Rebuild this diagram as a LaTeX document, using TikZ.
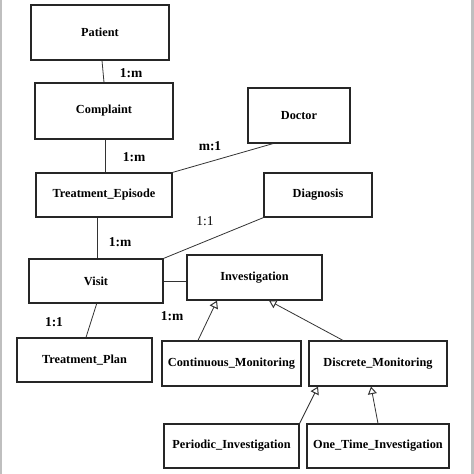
\documentclass[tikz,border=0pt]{standalone}
\usepackage{fontspec}
\setmainfont{Liberation Serif}
\usetikzlibrary{arrows.meta,calc}
\begin{document}
\begin{tikzpicture}[x=1pt,y=-1pt,
  ent/.style={draw=black!85,line width=1.2pt,inner sep=0pt,font=\fontsize{12.3}{14}\selectfont\bfseries},
  conn/.style={draw=black!80,line width=0.8pt},
  isa/.style={conn,-{Triangle[open,length=7.5pt,width=9pt,line width=1pt]}},
  mult/.style={inner sep=0pt,font=\fontsize{13.5}{15}\selectfont\bfseries},
  multr/.style={inner sep=0pt,font=\fontsize{13.5}{15}\selectfont}]
\useasboundingbox (0,0) rectangle (474,474);
\fill[white] (0,0) rectangle (474,474);
\fill[black!25] (0,0) rectangle (2,474);
\fill[black!25] (471,0) rectangle (474,474);
% entities
\node[ent,minimum width=138pt,minimum height=55pt] (pat) at (100,32.5) {Patient};
\node[ent,minimum width=138pt,minimum height=56pt] (comp) at (104,111) {Complaint};
\node[ent,minimum width=102pt,minimum height=55pt] (doc) at (299,115.5) {Doctor};
\node[ent,minimum width=136pt,minimum height=44pt] (te) at (104,195) {Treatment\_Episode};
\node[ent,minimum width=108pt,minimum height=44pt] (diag) at (318,195) {Diagnosis};
\node[ent,minimum width=134pt,minimum height=44pt] (visit) at (96,281) {Visit};
\node[ent,minimum width=135pt,minimum height=45pt] (inv) at (254.5,277.5) {Investigation};
\node[ent,minimum width=135pt,minimum height=44pt] (tp) at (84.5,360) {Treatment\_Plan};
\node[ent,minimum width=139pt,minimum height=45pt] (cm) at (231.5,363.5) {Continuous\_Monitoring};
\node[ent,minimum width=138pt,minimum height=45pt] (dm) at (378,363.5) {Discrete\_Monitoring};
\node[ent,minimum width=135pt,minimum height=44pt] (pi) at (231.5,446) {Periodic\_Investigation};
\node[ent,minimum width=142pt,minimum height=44pt] (oti) at (378,446) {One\_Time\_Investigation};
% connectors
\draw[conn] ([xshift=2pt]pat.south) -- (comp.north);
\draw[conn] ([xshift=1pt]comp.south) -- ([xshift=1pt]te.north);
\draw[conn] ([xshift=-26pt]doc.south) -- (te.north east);
\draw[conn] ([xshift=-7pt]te.south) -- ([xshift=1pt]visit.north);
\draw[conn] (diag.south west) -- (visit.north east);
\draw[conn] (visit.east) -- (visit.east -| inv.west);
\draw[conn] ([xshift=0.7pt]visit.south) -- ([xshift=1.5pt]tp.north);
\draw[isa] ([xshift=-33.5pt]cm.north) -- ([xshift=-37.5pt]inv.south);
\draw[isa] ([xshift=-35pt]dm.north) -- ([xshift=14.5pt]inv.south);
\draw[isa] (pi.north east) -- ([xshift=-60pt]dm.south);
\draw[isa] (oti.north) -- ([xshift=-7pt]dm.south);
% multiplicities
\node[mult] (m1) at (131,73) {1:m};
\node[mult] (m2) at (134,157) {1:m};
\node[mult] (m3) at (210,146) {m:1};
\node[mult] (m4) at (120,242) {1:m};
\node[multr] (m5) at (205,221) {1:1};
\node[mult] (m6) at (54,322) {1:1};
\node[mult] (m7) at (172,316) {1:m};
\end{tikzpicture}
\end{document}
